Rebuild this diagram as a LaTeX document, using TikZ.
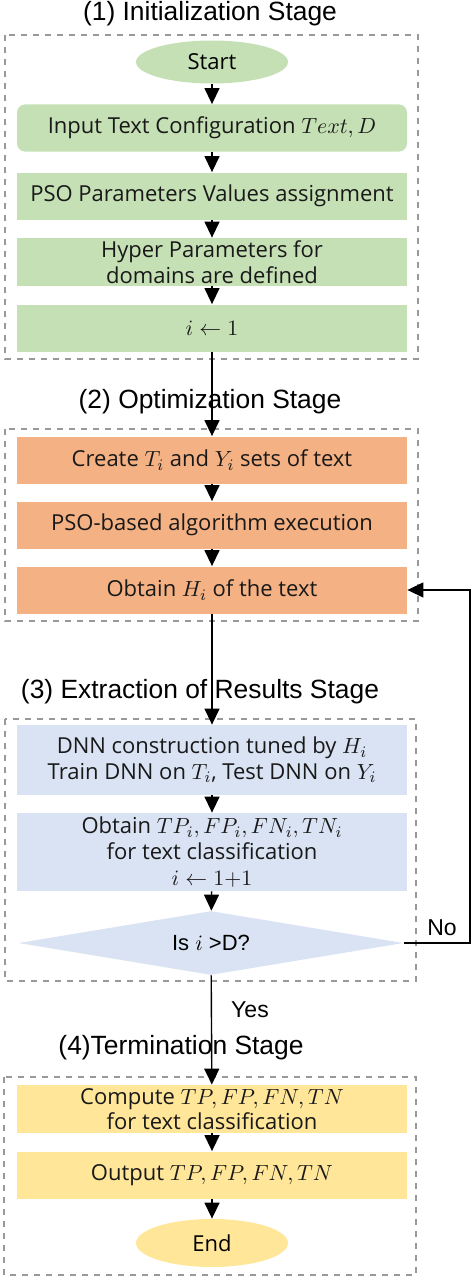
\documentclass[tikz,border=0pt]{standalone}
\usepackage{fontspec}
\setmainfont{Open Sans}
\newfontfamily\titlefont{Liberation Sans}
\usepackage{tikz}
\usetikzlibrary{arrows.meta,shapes.geometric}

\definecolor{initgreen}{HTML}{C5E0B4}
\definecolor{optorange}{HTML}{F4B183}
\definecolor{extblue}{HTML}{DAE3F3}
\definecolor{termyellow}{HTML}{FFE699}

\tikzset{
  stagebox/.style={draw=gray!80,dashed,line width=0.6pt},
  stagetitle/.style={font=\titlefont\fontsize{13.2}{15}\selectfont,inner sep=0pt},
  procbox/.style={minimum width=195pt,minimum height=23.5pt,inner sep=0pt,
    align=center,font=\fontsize{11}{12.8}\selectfont,text=black!90},
  termnode/.style={ellipse,minimum width=76pt,minimum height=21.5pt,inner sep=0pt,
    font=\fontsize{11}{13}\selectfont},
  flow/.style={line width=0.7pt,-{Triangle[length=8pt,width=7.5pt]}},
  branchlabel/.style={font=\titlefont\fontsize{11.5}{14}\selectfont,inner sep=0pt}
}

\begin{document}
\begin{tikzpicture}[x=0.5pt,y=-0.5pt]
  \useasboundingbox (0,0) rectangle (474,1279);

  \draw[stagebox] (5,35) rectangle (418,359);
  \draw[stagebox] (5,429) rectangle (418,621);
  \draw[stagebox] (5,719) rectangle (416,981);
  \draw[stagebox] (4,1077) rectangle (416,1275);

  \node[stagetitle] (t1) at (210,14) {(1) Initialization Stage};
  \node[stagetitle] (t2) at (210,402) {(2) Optimization Stage};
  \node[stagetitle] (t3) at (200,692) {(3) Extraction of Results Stage};
  \node[stagetitle] (t4) at (181,1048) {(4)Termination Stage};

  \node[termnode,fill=initgreen] (start) at (212,62) {Start};
  \node[procbox,fill=initgreen,rounded corners=4pt] (input) at (212,128) {Input Text Configuration $Text, D$};
  \node[procbox,fill=initgreen] (psoval) at (212,196) {PSO Parameters Values assignment};
  \node[procbox,fill=initgreen,minimum height=24pt] (hyper) at (212,262) {Hyper Parameters for\\domains are defined};
  \node[procbox,fill=initgreen] (init) at (212,328) {$i \leftarrow 1$};

  \node[procbox,fill=optorange] (create) at (212,460) {Create $T_i$ and $Y_i$ sets of text};
  \node[procbox,fill=optorange] (psoexec) at (212,525) {PSO-based algorithm execution};
  \node[procbox,fill=optorange] (obtH) at (212,590) {Obtain $H_i$ of the text};

  \node[procbox,fill=extblue,minimum height=35pt] (dnn) at (212,760) {DNN construction tuned by $H_i$\\Train DNN on $T_i$, Test DNN on $Y_i$};
  \node[procbox,fill=extblue,minimum height=39pt] (obtTP) at (212,852) {Obtain $TP_i, FP_i, FN_i, TN_i$\\for text classification\\$i \leftarrow 1{+}1$};
  \node[diamond,fill=extblue,minimum width=192.5pt,minimum height=32pt,inner sep=0pt,
    shape aspect=6,font=\titlefont\fontsize{11}{13}\selectfont] (cond) at (211,943) {Is $i$ >D?};

  \node[procbox,fill=termyellow,minimum height=24pt] (comp) at (212,1109) {Compute $TP, FP, FN, TN$\\for text classification};
  \node[procbox,fill=termyellow] (outp) at (212,1175) {Output $TP, FP, FN, TN$};
  \node[termnode,fill=termyellow,minimum height=24pt] (stop) at (212,1243) {End};

  \coordinate (loop) at (470,943);
  \node[branchlabel] (no) at (442,928) {No};
  \node[branchlabel] (yes) at (250,1010) {Yes};

  \draw[flow] (start) -- (input);
  \draw[flow] (input) -- (psoval);
  \draw[flow] (psoval) -- (hyper);
  \draw[flow] (hyper) -- (init);
  \draw[flow] (init) -- (create);
  \draw[flow] (create) -- (psoexec);
  \draw[flow] (psoexec) -- (obtH);
  \draw[flow] (obtH) -- (dnn);
  \draw[flow] (dnn) -- (obtTP);
  \draw[flow] (obtTP) -- (cond);
  \draw[flow] (cond) -- (comp);
  \draw[flow] (comp) -- (outp);
  \draw[flow] (outp) -- (stop);
  \draw[flow] (cond.east) -- (loop) |- (obtH.east);
\end{tikzpicture}
\end{document}
